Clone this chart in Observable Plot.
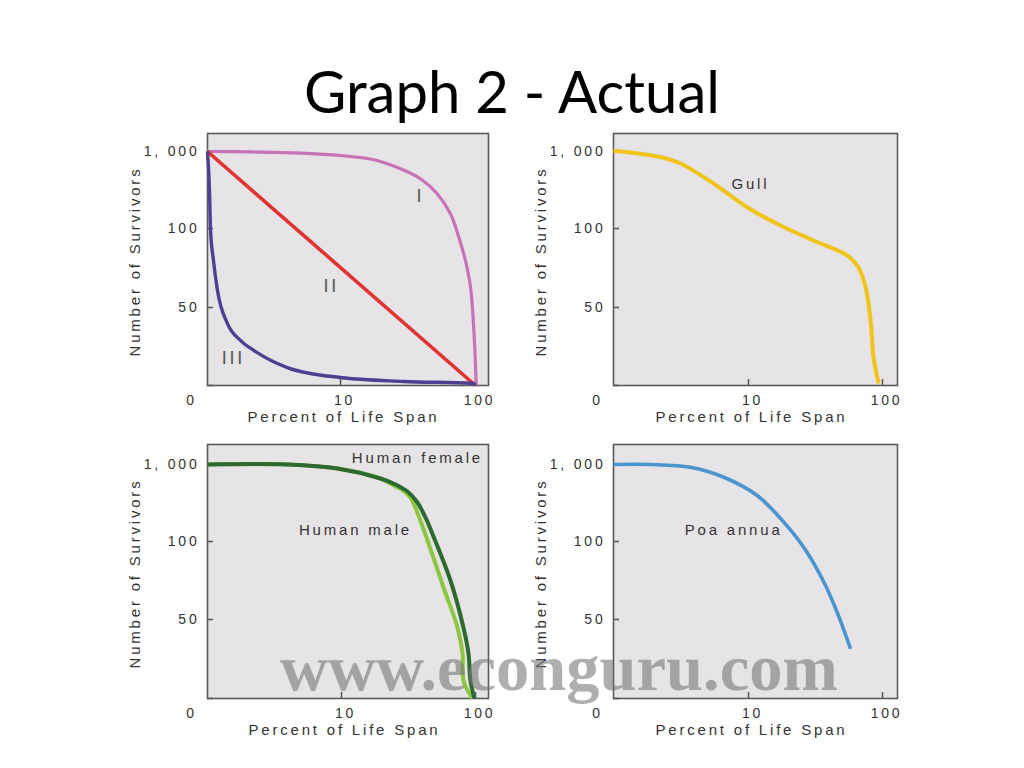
<!DOCTYPE html>
<html>
<head>
<meta charset="utf-8">
<script src="https://cdn.jsdelivr.net/npm/d3@7"></script>
<script src="https://cdn.jsdelivr.net/npm/@observablehq/plot@0.6"></script>
<style>
  html, body { margin: 0; padding: 0; background: #fff; }
  #root { position: relative; width: 1024px; height: 768px; overflow: hidden; }
  #title { position: absolute; left: 0; width: 1024px; top: 62px; text-align: center;
           font-family: Lato, "Open Sans", sans-serif; font-size: 58px; line-height: 1; color: #000; }
  .panel { position: absolute; }
  #wm { position: absolute; left: 280px; top: 635px; font-family: "Liberation Serif", "DejaVu Serif", serif;
        font-weight: bold; font-size: 66.5px; line-height: 1; color: rgba(120,120,120,0.6); white-space: nowrap; }
</style>
</head>
<body>
<div id="root">
  <div id="title">Graph 2 - Actual</div>
</div>
<script>
// ---------- axis definitions ----------
const yTickValues = [0, 50, 100, 1000];
const yTickLabels = ["0", "50", "100", "1, 000"];
const xTickValues = [0, 10, 100];
const xTickLabels = ["0", "10", "100"];
const xAxisTitle = "Percent of Life Span";
const yAxisTitle = "Number of Survivors";

// ---------- panel 1: survivorship types ----------
const type1X = [0, 3.2, 7, 10, 32.2, 50, 63.3, 74.5, 83.3, 88.9, 93.3, 96.7, 98.9, 100.5];
const type1Y = [1000, 995, 982, 953, 903, 798, 681, 506, 272, 94.5, 79.7, 62.8, 35.3, 0];
const type2X = [0, 100];
const type2Y = [1000, 0];
const type3X = [0, 0.15, 0.23, 0.45, 0.75, 1.5, 2.5, 3.5, 6.0, 10, 52, 98.7, 100];
const type3Y = [1000, 544, 98.7, 79.7, 60.8, 39.7, 28.8, 22.4, 11.5, 5.1, 2.6, 1.3, 0];
const p1Labels = ["I", "II", "III"];
const p1LabelX = [63.3, 9.3, 1.95];
const p1LabelY = [474, 63.3, 17.3];

// ---------- panel 2: gull ----------
const gullX = [0, 3.26, 4.96, 7.41, 9.93, 31.5, 53.7, 76.5, 83.9, 88.7, 92, 94, 97.4];
const gullY = [1010, 942, 860, 626, 345, 135, 92.4, 82.9, 75.3, 62.7, 41.7, 17.9, 1.3];
const p2Labels = ["Gull"];
const p2LabelX = [11.3];
const p2LabelY = [614];

// ---------- panel 3: humans ----------
const femaleX = [0, 6.0, 9.7, 36.2, 46.3, 54.3, 61, 66.4, 71.8, 83.2, 91.9, 95.3, 96.6, 99.3];
const femaleY = [1000, 1000, 953, 836, 766, 684, 556, 381, 158, 75, 44.9, 28.5, 11.4, 0];
const maleX = [0, 6.0, 9.7, 36.2, 46.3, 51.6, 56.4, 61.7, 67.8, 78.5, 87.9, 91.3, 91.9, 98];
const maleY = [1000, 1000, 953, 836, 743, 696, 614, 404, 112, 70.5, 44.9, 28.5, 11.4, 0];
const p3Labels = ["Human female", "Human male"];
const p3LabelX = [61, 19.4];
const p3LabelY = [1070, 229];

// ---------- panel 4: Poa annua ----------
const poaX = [0, 2.74, 5.7, 8.17, 15.8, 33.7, 48.3, 61.1, 69.5, 78.5];
const poaY = [1000, 1000, 968, 851, 638, 326, 94.6, 73.1, 54.7, 31.5];
const p4Labels = ["Poa annua"];
const p4LabelX = [8.9];
const p4LabelY = [229];

const zip = (xs, ys) => xs.map((x, i) => ({x, y: ys[i]}));
const root = document.getElementById("root");

function panel({box, xPx, yPx, series, labels, labelX, labelY, labelStyle}) {
  const mL = 97, mR = 20, mT = 10, mB = 55;
  const svgLeft = box.x0 - mL, svgTop = box.y0 - mT;
  const fw = box.x1 - box.x0, fh = box.y1 - box.y0;
  const width = fw + mL + mR, height = fh + mT + mB;
  const yTickData = yTickValues.map((v, i) => ({v, label: yTickLabels[i]}));
  const xTickData = xTickValues.map((v, i) => ({v, label: xTickLabels[i]}));
  const labelData = labels.map((t, i) => ({t, x: labelX[i], y: labelY[i]}));
  const svg = Plot.plot({
    width, height,
    marginLeft: mL, marginRight: mR, marginTop: mT, marginBottom: mB,
    x: {type: "linear", domain: xTickValues, range: xPx.map(v => v - svgLeft), axis: null},
    y: {type: "linear", domain: yTickValues, range: yPx.map(v => v - svgTop), axis: null},
    style: {fontFamily: "'Liberation Sans', Arial, sans-serif", color: "#333", background: "transparent", overflow: "visible", letterSpacing: "2.8px"},
    marks: [
      Plot.frame({fill: "#e6e4e6", stroke: "#5a5a5a", strokeWidth: 1.6}),
      Plot.tickY(yTickValues, {y: d => d, insetRight: fw - 6, stroke: "#555", strokeWidth: 1.5}),
      Plot.tickX(xTickValues.slice(1), {x: d => d, insetTop: fh - 6, stroke: "#555", strokeWidth: 1.5}),
      ...series.map(s => Plot.line(zip(s.x, s.y), {x: "x", y: "y", stroke: s.color, strokeWidth: s.width, curve: s.curve || "catmull-rom", strokeLinecap: "butt"})),
      Plot.text(yTickData.slice(1), {y: "v", text: "label", frameAnchor: "left", textAnchor: "end", dx: -8, fontSize: 14}),
      Plot.text(xTickData.slice(1), {x: "v", text: "label", frameAnchor: "bottom", dy: 19, dx: 4, fontSize: 14}),
      Plot.text(xTickData.slice(0, 1), {x: "v", text: "label", frameAnchor: "bottom", dy: 19, dx: -16, fontSize: 14}),
      Plot.text([xAxisTitle], {x: () => 10, text: d => d, frameAnchor: "bottom", dy: 36, dx: 3, fontSize: 15}),
      Plot.text([yAxisTitle], {text: d => d, frameAnchor: "left", textAnchor: "middle", rotate: -90, dx: -72, dy: 2, fontSize: 15, ariaLabel: "ytitle"}),
      Plot.text(labelData, {x: "x", y: "y", text: "t", fontSize: labelStyle.fontSize, fill: labelStyle.color, ariaLabel: "curvelabel"})
    ]
  });
  d3.select(svg).selectAll('g[aria-label="ytitle"] text').style("letter-spacing", "1.6px");
  d3.select(svg).selectAll('g[aria-label="curvelabel"] text').style("letter-spacing", labelStyle.spacing);
  const wrap = document.createElement("div");
  wrap.className = "panel";
  wrap.style.left = svgLeft + "px";
  wrap.style.top = svgTop + "px";
  wrap.appendChild(svg);
  root.appendChild(wrap);
}

const topY = [385, 307, 228, 151];
const botY = [698, 619, 541, 464];

panel({
  box: {x0: 207, x1: 488, y0: 133, y1: 385}, xPx: [207, 340, 475], yPx: topY,
  series: [
    {x: type1X, y: type1Y, color: "#c772b6", width: 3.2},
    {x: type2X, y: type2Y, color: "#e23232", width: 3.6, curve: "linear"},
    {x: type3X, y: type3Y, color: "#4f3f92", width: 3.4, curve: "monotone-x"}
  ],
  labels: p1Labels, labelX: p1LabelX, labelY: p1LabelY,
  labelStyle: {fontSize: 18, color: "#555", spacing: "4px"}
});
panel({
  box: {x0: 613, x1: 897, y0: 133, y1: 385}, xPx: [613, 748, 882], yPx: topY,
  series: [{x: gullX, y: gullY, color: "#f1c419", width: 4}],
  labels: p2Labels, labelX: p2LabelX, labelY: p2LabelY,
  labelStyle: {fontSize: 15, color: "#333", spacing: "2.8px"}
});
panel({
  box: {x0: 207, x1: 488, y0: 444, y1: 698}, xPx: [207, 341, 475], yPx: botY,
  series: [
    {x: maleX, y: maleY, color: "#8dc63f", width: 4},
    {x: femaleX, y: femaleY, color: "#2c6a30", width: 4}
  ],
  labels: p3Labels, labelX: p3LabelX, labelY: p3LabelY,
  labelStyle: {fontSize: 15, color: "#333", spacing: "2.8px"}
});
panel({
  box: {x0: 613, x1: 897, y0: 444, y1: 698}, xPx: [613, 748, 882], yPx: botY,
  series: [{x: poaX, y: poaY, color: "#4a95d0", width: 3.6}],
  labels: p4Labels, labelX: p4LabelX, labelY: p4LabelY,
  labelStyle: {fontSize: 15, color: "#333", spacing: "2.8px"}
});

const wm = document.createElement("div");
wm.id = "wm";
wm.textContent = "www.econguru.com";
root.appendChild(wm);
</script>
</body>
</html>
